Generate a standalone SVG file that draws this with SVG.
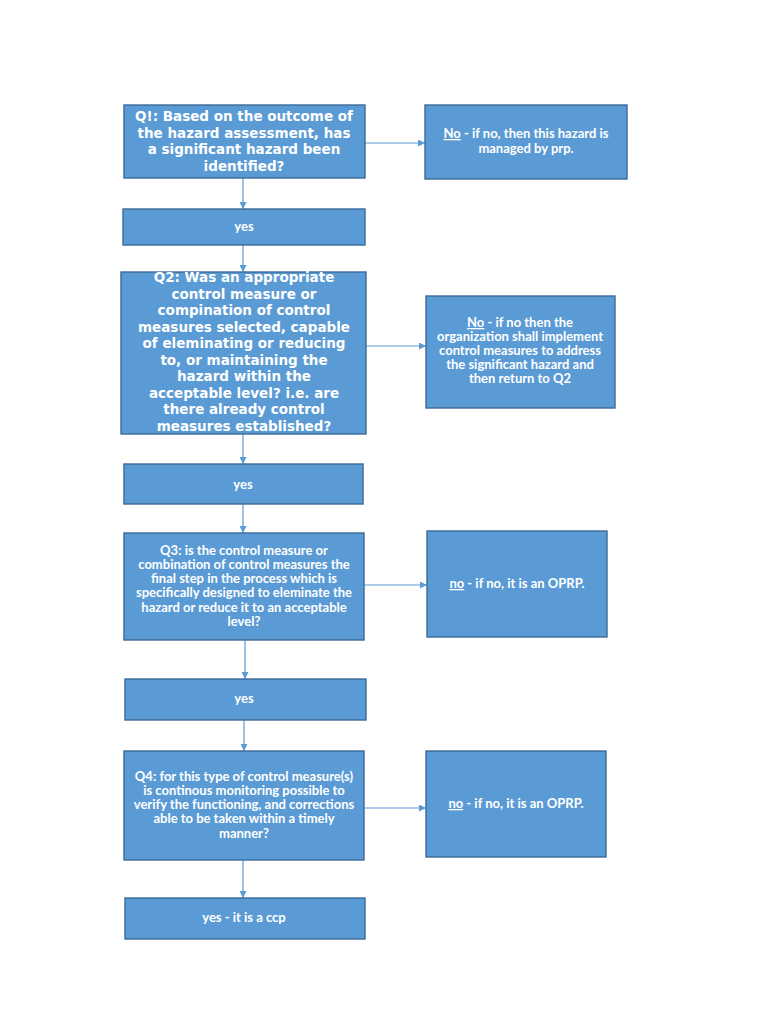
<svg xmlns="http://www.w3.org/2000/svg" width="768" height="1024" viewBox="0 0 768 1024">
<style>
.box{fill:#5b9bd5;stroke:#3b6a96;stroke-width:1.4}
.big{font-family:"DejaVu Sans",Verdana,sans-serif;font-weight:bold;font-size:13.5px;fill:#fff;text-anchor:middle}
.sm{font-family:Lato,"Open Sans",sans-serif;font-weight:bold;font-size:13px;fill:#fff;text-anchor:middle}
.con{stroke:#5b9bd5;stroke-width:1.2;fill:none;marker-end:url(#ah)}
</style>
<defs>
<marker id="ah" viewBox="0 0 10 10" refX="10" refY="5" markerWidth="7" markerHeight="7" markerUnits="userSpaceOnUse" orient="auto">
<path d="M0,0 L10,5 L0,10 z" fill="#5b9bd5"/>
</marker>
</defs>
<rect width="768" height="1024" fill="#fff"/>
<g id="connectors">
<line class="con" x1="365" y1="143" x2="425" y2="143"/>
<line class="con" x1="243" y1="178" x2="243" y2="209"/>
<line class="con" x1="243" y1="245" x2="243" y2="272"/>
<line class="con" x1="366" y1="346" x2="426" y2="346"/>
<line class="con" x1="243" y1="434" x2="243" y2="464"/>
<line class="con" x1="243" y1="504" x2="243" y2="533"/>
<line class="con" x1="364" y1="585" x2="427" y2="585"/>
<line class="con" x1="245" y1="640" x2="245" y2="679"/>
<line class="con" x1="244" y1="720" x2="244" y2="751"/>
<line class="con" x1="364" y1="808" x2="426" y2="808"/>
<line class="con" x1="243" y1="860" x2="243" y2="898"/>
</g>
<g id="q1">
<rect class="box" x="124" y="105" width="241" height="73"/>
<text class="big"><tspan x="244" y="121">Q!: Based on the outcome of</tspan><tspan x="244" y="137.5">the hazard assessment, has</tspan><tspan x="244" y="154">a significant hazard been</tspan><tspan x="244" y="170.5">identified?</tspan></text>
</g>
<g id="no1">
<rect class="box" x="425" y="105" width="202" height="74"/>
<text class="sm"><tspan x="526" y="138"><tspan text-decoration="underline">No</tspan> - if no, then this hazard is</tspan><tspan x="526" y="152.5">managed by prp.</tspan></text>
</g>
<g id="yes1">
<rect class="box" x="123" y="209" width="242" height="36"/>
<text class="sm" x="244" y="231">yes</text>
</g>
<g id="q2">
<rect class="box" x="121" y="272" width="245" height="162"/>
<text class="big"><tspan x="244" y="282">Q2: Was an appropriate</tspan><tspan x="244" y="298.5">control measure or</tspan><tspan x="244" y="315">compination of control</tspan><tspan x="244" y="331.5">measures selected, capable</tspan><tspan x="244" y="348">of eleminating or reducing</tspan><tspan x="244" y="364.5">to, or maintaining the</tspan><tspan x="244" y="381">hazard within the</tspan><tspan x="244" y="397.5">acceptable level? i.e. are</tspan><tspan x="244" y="414">there already control</tspan><tspan x="244" y="430.5">measures established?</tspan></text>
</g>
<g id="no2">
<rect class="box" x="426" y="296" width="189" height="112"/>
<text class="sm"><tspan x="520" y="327"><tspan text-decoration="underline">No</tspan> - if no then the</tspan><tspan x="520" y="341">organization shall implement</tspan><tspan x="520" y="355">control measures to address</tspan><tspan x="520" y="369">the significant hazard and</tspan><tspan x="520" y="383">then return to Q2</tspan></text>
</g>
<g id="yes2">
<rect class="box" x="124" y="464" width="239" height="40"/>
<text class="sm" x="243" y="489">yes</text>
</g>
<g id="q3">
<rect class="box" x="124" y="533" width="240" height="107"/>
<text class="sm"><tspan x="244" y="555">Q3: is the control measure or</tspan><tspan x="244" y="569">combination of control measures the</tspan><tspan x="244" y="583">final step in the process which is</tspan><tspan x="244" y="597">specifically designed to eleminate the</tspan><tspan x="244" y="612">hazard or reduce it to an acceptable</tspan><tspan x="244" y="626">level?</tspan></text>
</g>
<g id="no3">
<rect class="box" x="427" y="531" width="180" height="106"/>
<text class="sm"><tspan x="517" y="588"><tspan text-decoration="underline">no</tspan> - if no, it is an OPRP.</tspan></text>
</g>
<g id="yes3">
<rect class="box" x="125" y="679" width="241" height="41"/>
<text class="sm" x="244" y="703">yes</text>
</g>
<g id="q4">
<rect class="box" x="124" y="751" width="240" height="109"/>
<text class="sm"><tspan x="244" y="781">Q4: for this type of control measure(s)</tspan><tspan x="244" y="795">is continous monitoring possible to</tspan><tspan x="244" y="809">verify the functioning, and corrections</tspan><tspan x="244" y="823">able to be taken within a timely</tspan><tspan x="244" y="838">manner?</tspan></text>
</g>
<g id="no4">
<rect class="box" x="426" y="751" width="180" height="106"/>
<text class="sm"><tspan x="516" y="808"><tspan text-decoration="underline">no</tspan> - if no, it is an OPRP.</tspan></text>
</g>
<g id="yes4">
<rect class="box" x="125" y="898" width="240" height="41"/>
<text class="sm" x="244" y="922">yes - it is a ccp</text>
</g>
</svg>
